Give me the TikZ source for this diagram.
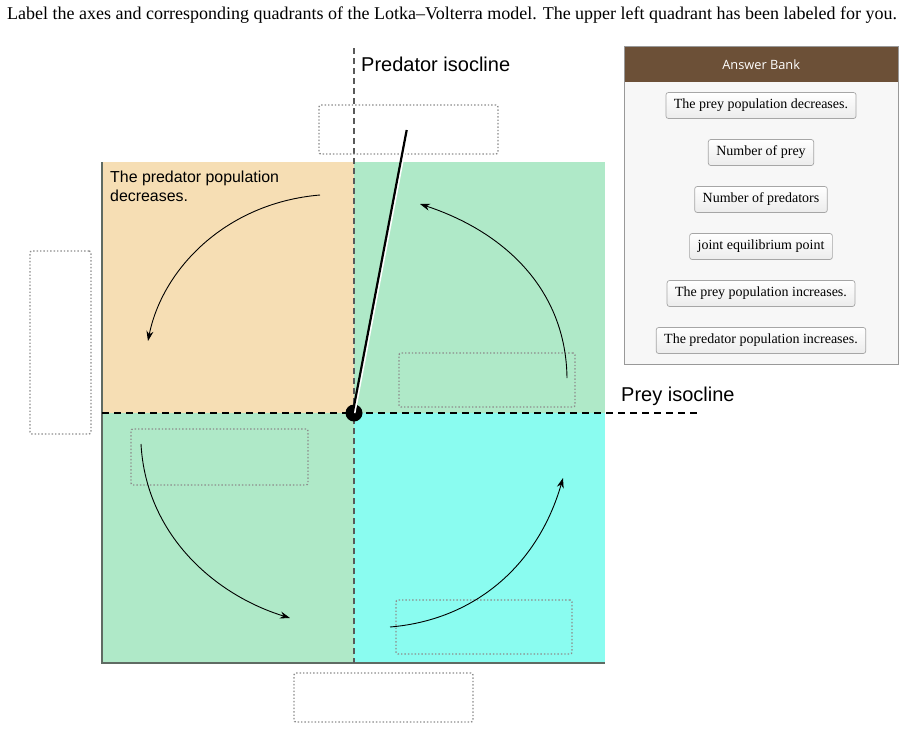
\documentclass[tikz,border=0pt]{standalone}
\usepackage{fontspec}
\setmainfont{Liberation Serif}
\newfontfamily\sansf{Liberation Sans}
\newfontfamily\opensans{Open Sans}
\usetikzlibrary{arrows.meta}
\definecolor{wheatc}{RGB}{246,222,180}
\definecolor{mintc}{RGB}{175,233,200}
\definecolor{aquac}{RGB}{138,252,240}
\definecolor{axisc}{RGB}{95,107,99}
\definecolor{brownc}{RGB}{108,80,55}
\definecolor{bankbg}{RGB}{247,247,247}
\definecolor{dotc}{RGB}{140,140,140}
\tikzset{
  dropbox/.style={draw=dotc, dotted, line width=1.4pt, rounded corners=2pt, inner sep=0pt},
  flow/.style={draw=black, line width=0.9pt, -{Stealth[length=10pt,width=7pt]}},
  btn/.style={draw=gray!70, rounded corners=2.5pt, top color=white, bottom color=gray!15, line width=0.7pt,
     font=\fontsize{14}{16}\selectfont, minimum height=26pt, inner xsep=8pt, anchor=center},
  isolabel/.style={font=\sansf\fontsize{20}{22}\selectfont, inner sep=0pt}
}
\begin{document}
\begin{tikzpicture}[x=1pt,y=-1pt]
\useasboundingbox[fill=white] (0,0) rectangle (922,737);
% title
\node[anchor=base west, inner sep=0pt, font=\fontsize{18}{20}\selectfont] (title) at (7,19.5)
  {Label the axes and corresponding quadrants of the Lotka--Volterra model. The upper left quadrant has been labeled for you.};
% quadrants
\fill[wheatc] (102,162) rectangle (354,413);
\fill[mintc] (354,162) rectangle (605,413);
\fill[mintc] (102,413) rectangle (354,663);
\fill[aquac] (354,413) rectangle (605,663);
% axes
\coordinate (origin) at (102,663);
\coordinate (ytop) at (102,162);
\coordinate (xend) at (605,663);
\draw[axisc, line width=1.6pt] (ytop) -- (origin) -- (xend);
% isoclines
\coordinate (eq) at (354,413);
\coordinate (vtop) at (354,48);
\coordinate (vbot) at (354,663);
\coordinate (hleft) at (102,413);
\coordinate (hright) at (701,413);
\draw[black!65, line width=1.3pt, dash pattern=on 6pt off 4pt] (vtop) -- (vbot);
\draw[black, line width=1.3pt, dash pattern=on 7pt off 5pt] (hleft) -- (hright);
\node[isolabel, anchor=west] (predlab) at (361,64) {Predator isocline};
\node[isolabel, anchor=west] (preylab) at (621,396) {Prey isocline};
% drop boxes
\node[dropbox, minimum width=179pt, minimum height=49pt] (b1) at (408.5,129.5) {};
\node[dropbox, minimum width=61pt, minimum height=183pt] (b2) at (60.5,342.5) {};
\node[dropbox, minimum width=176pt, minimum height=54pt] (b3) at (487,380) {};
\node[dropbox, minimum width=177pt, minimum height=56pt] (b4) at (219.5,457) {};
\node[dropbox, minimum width=176pt, minimum height=54pt] (b5) at (484,627) {};
\node[dropbox, minimum width=179pt, minimum height=49pt] (b6) at (383.5,697.5) {};
% equilibrium point and handle line
\coordinate (handle) at (408,130);
\fill[black] (eq) circle (8.5pt);
\draw[white, line width=3pt] (eq) -- (handle);
\draw[black, line width=2.2pt, transform canvas={xshift=-1.3pt}] (eq) -- (handle);
% quadrant text
\node[anchor=north west, align=left, inner sep=0pt, font=\sansf\fontsize{15.9}{19}\selectfont] (ultext) at (110,171)
  {The predator population\\decreases.};
% flow arrows
\coordinate (a1s) at (320,195); \coordinate (a1e) at (148,341);
\coordinate (a2s) at (567,378); \coordinate (a2e) at (420,204);
\coordinate (a3s) at (141,444); \coordinate (a3e) at (290,618);
\coordinate (a4s) at (390,627); \coordinate (a4e) at (563,478);
\draw[flow] (a1s) .. controls (225,203) and (162,270) .. (a1e);
\draw[flow] (a2s) .. controls (566,290) and (505,232) .. (a2e);
\draw[flow] (a3s) .. controls (146,535) and (215,595) .. (a3e);
\draw[flow] (a4s) .. controls (475,620) and (538,565) .. (a4e);
% answer bank
\node[draw=gray!80, fill=bankbg, line width=0.8pt, minimum width=274pt, minimum height=318pt, inner sep=0pt, anchor=north west] (bank) at (624,46) {};
\node[fill=brownc, minimum width=273pt, minimum height=35pt, inner sep=0pt, anchor=north west,
  text=white, font=\opensans\fontsize{12.8}{14}\selectfont] (bankhead) at (624.5,46.5) {Answer Bank};
\node[btn] (ans1) at (761,105.5) {The prey population decreases.};
\node[btn] (ans2) at (761,152.5) {Number of prey};
\node[btn] (ans3) at (761,199.5) {Number of predators};
\node[btn] (ans4) at (761,246.5) {joint equilibrium point};
\node[btn] (ans5) at (761,293.5) {The prey population increases.};
\node[btn] (ans6) at (761,340.5) {The predator population increases.};
\end{tikzpicture}
\end{document}
